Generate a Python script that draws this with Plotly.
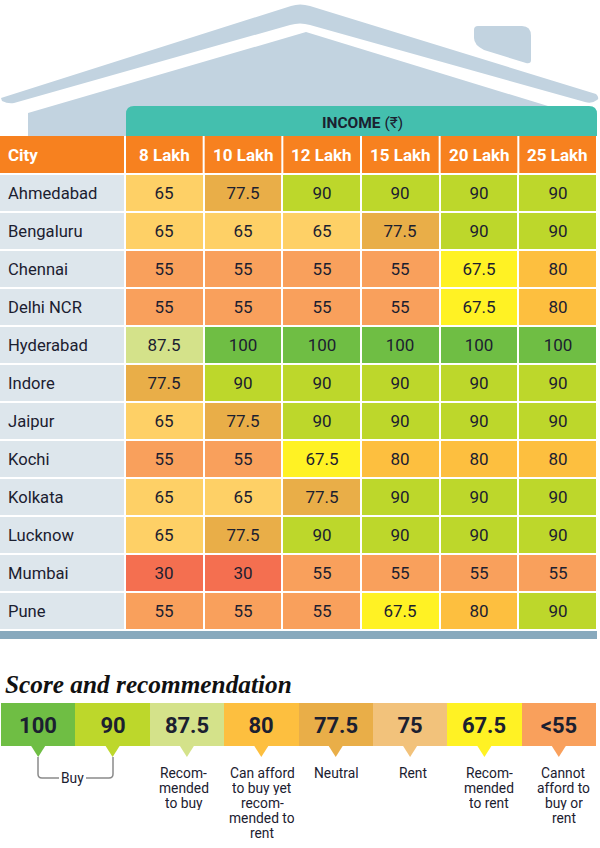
import plotly.graph_objects as go

CITIES = ["Ahmedabad", "Bengaluru", "Chennai", "Delhi NCR", "Hyderabad", "Indore",
          "Jaipur", "Kochi", "Kolkata", "Lucknow", "Mumbai", "Pune"]
INCOMES = ["8 Lakh", "10 Lakh", "12 Lakh", "15 Lakh", "20 Lakh", "25 Lakh"]
SCORES = [
    [65, 77.5, 90, 90, 90, 90],
    [65, 65, 65, 77.5, 90, 90],
    [55, 55, 55, 55, 67.5, 80],
    [55, 55, 55, 55, 67.5, 80],
    [87.5, 100, 100, 100, 100, 100],
    [77.5, 90, 90, 90, 90, 90],
    [65, 77.5, 90, 90, 90, 90],
    [55, 55, 67.5, 80, 80, 80],
    [65, 65, 77.5, 90, 90, 90],
    [65, 77.5, 90, 90, 90, 90],
    [30, 30, 55, 55, 55, 55],
    [55, 55, 55, 67.5, 80, 90],
]
KEY_SCORES = [100, 90, 87.5, 80, 77.5, 75, 67.5, 55]
KEY_LABELS = ["100", "90", "87.5", "80", "77.5", "75", "67.5", "<55"]
KEY_NOTES = [
    [],
    [],
    ["Recom-", "mended", "to buy"],
    ["Can afford", "to buy yet", "recom-", "mended to", "rent"],
    ["Neutral"],
    ["Rent"],
    ["Recom-", "mended", "to rent"],
    ["Cannot", "afford to", "buy or", "rent"],
]
LEVELS = [30, 55, 65, 67.5, 75, 77.5, 80, 87.5, 90, 100]
LEVEL_COLORS = ["#f46f50", "#f9a05c", "#fed066", "#fff224", "#f2c27b",
                "#e9ae48", "#fdbf3f", "#d4e28a", "#bdd72b", "#6fbe44"]

W, H = 600, 848
SANS = "Roboto"
INK = "#1b2030"
HOUSE = "#c2d3e0"
ORANGE = "#f7811f"


def stepped_scale():
    lo, hi = LEVELS[0], LEVELS[-1]
    scale = []
    start = 0.0
    for i, color in enumerate(LEVEL_COLORS):
        end = 1.0 if i == len(LEVELS) - 1 else ((LEVELS[i] + LEVELS[i + 1]) / 2 - lo) / (hi - lo)
        scale += [[start, color], [end, color]]
        start = end
    return scale


def color_of(score):
    return LEVEL_COLORS[LEVELS.index(score)]


fig = go.Figure()

fig.add_heatmap(
    z=SCORES, x=INCOMES, y=CITIES,
    text=[[f"{v:g}" for v in row] for row in SCORES], texttemplate="%{text}",
    textfont=dict(family=SANS, size=17, color=INK),
    colorscale=stepped_scale(), zmin=LEVELS[0], zmax=LEVELS[-1], showscale=False,
    xgap=2, ygap=2, xaxis="x", yaxis="y",
)
fig.add_heatmap(
    z=[KEY_SCORES], x=KEY_LABELS, y=["key"],
    text=[KEY_LABELS], texttemplate="<b>%{text}</b>",
    textfont=dict(family=SANS, size=22, color=INK),
    colorscale=stepped_scale(), zmin=LEVELS[0], zmax=LEVELS[-1], showscale=False,
    xaxis="x3", yaxis="y3",
)

# pixel axis used for the decoration around the two grids
fig.add_scatter(x=[0, W], y=[0, H], mode="markers", marker_opacity=0, hoverinfo="skip",
                xaxis="x2", yaxis="y2")


def px_shape(**kw):
    fig.add_shape(xref="x2", yref="y2", line_width=0, layer="below", **kw)


def label(x, y, text, size=17, color=INK, anchor="center", family=SANS, height=None):
    fig.add_annotation(xref="x2", yref="y2", x=x, y=y, text=text, showarrow=False,
                       xanchor=anchor, yanchor="middle", height=height, borderpad=0,
                       font=dict(family=family, size=size, color=color))


# house
px_shape(type="path", fillcolor=HOUSE,
         path="M 1 98 L 291 6 Q 300 3 310 6 L 596 94 Q 600 98 597 100 Q 592 104 585 102 "
              "L 310 25 Q 300 22 290 25 L 14 103 Q 8 104 2 101 Z")
px_shape(type="path", fillcolor=HOUSE,
         path="M 474 30 Q 474 26 478 26 L 522 26 Q 531 26 531 36 L 531 60 Q 531 64 526 63 "
              "L 484 50 Q 474 45 474 38 Z")
px_shape(type="path", fillcolor=HOUSE, path="M 28 113 L 306 32 L 548 106 L 548 136 L 28 136 Z")

# income banner
px_shape(type="path", fillcolor="#44bfae",
         path="M 126 136 L 126 114 Q 126 106 134 106 L 589 106 Q 597 106 597 114 L 597 136 Z")
label(362, 123, "<b>INCOME</b> (₹)", size=15.5)

# header row and city column
COL_W = (597 - 125) / len(INCOMES)
px_shape(type="rect", x0=0, x1=124, y0=136, y1=173, fillcolor=ORANGE)
label(7, 155, "<b>City</b>", color="white", anchor="left")
for i, income in enumerate(INCOMES):
    px_shape(type="rect", x0=126 + i * COL_W, x1=124 + (i + 1) * COL_W, y0=136, y1=173,
             fillcolor=ORANGE)
    label(125 + (i + 0.5) * COL_W, 155, f"<b>{income}</b>", color="white")
for i, city in enumerate(CITIES):
    px_shape(type="rect", x0=0, x1=124, y0=175 + i * 38, y1=211 + i * 38, fillcolor="#dde6ec")
    label(7, 193 + i * 38, city, size=16.6, anchor="left")
px_shape(type="rect", x0=0, x1=597, y0=631, y1=639, fillcolor="#88a9bd")

# key
label(4, 684, "<b><i>Score and recommendation</i></b>", size=25.3, color="#111111",
      anchor="left", family="Liberation Serif")
KEY_W = (596 - 1) / len(KEY_SCORES)
NOTE_SHIFT = [0, 0, -3, 1, 1, 3, 5, 5]
for i, score in enumerate(KEY_SCORES):
    cx = 1 + (i + 0.5) * KEY_W
    px_shape(type="path", fillcolor=color_of(score),
             path=f"M {cx - 7:.1f} 746 L {cx + 7:.1f} 746 L {cx:.1f} 757 Z")
    for j, line in enumerate(KEY_NOTES[i]):
        label(cx + NOTE_SHIFT[i], 772.5 + j * 15, line, size=13.8, height=15)

fig.add_shape(xref="x2", yref="y2", type="path", layer="below",
              line=dict(color="#8a8a8a", width=1.5),
              path="M 38 757 L 38 774 Q 38 778 42 778 L 59 778")
fig.add_shape(xref="x2", yref="y2", type="path", layer="below",
              line=dict(color="#8a8a8a", width=1.5),
              path="M 86 778 L 109 778 Q 113 778 113 774 L 113 757")
label(72, 778, "Buy", size=13.8)

fig.update_layout(
    width=W, height=H, margin=dict(l=0, r=0, t=0, b=0, pad=0),
    paper_bgcolor="white", plot_bgcolor="rgba(0,0,0,0)", showlegend=False,
    xaxis=dict(domain=[125 / W, 597 / W], type="category", visible=False),
    yaxis=dict(domain=[1 - 630 / H, 1 - 174 / H], type="category", autorange="reversed", visible=False),
    xaxis2=dict(domain=[0, 1], range=[0, W], visible=False, anchor="y2"),
    yaxis2=dict(domain=[0, 1], range=[H, 0], visible=False, anchor="x2"),
    xaxis3=dict(domain=[1 / W, 596 / W], type="category", visible=False, anchor="y3"),
    yaxis3=dict(domain=[1 - 746 / H, 1 - 703 / H], type="category", visible=False, anchor="x3"),
)

fig.write_html("out.html", post_script="document.body.style.margin='0';",
               config=dict(displayModeBar=False))
